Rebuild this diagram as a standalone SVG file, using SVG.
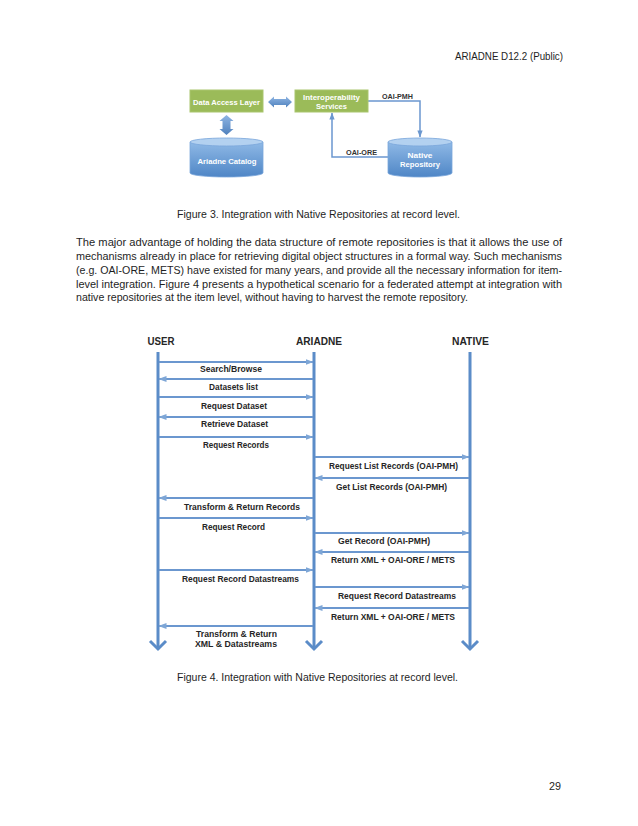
<svg xmlns="http://www.w3.org/2000/svg" width="638" height="826" viewBox="0 0 638 826">
<style>
.t{font-family:"Liberation Sans",Arial,sans-serif;fill:#1e1e1e}
.body{font-size:10.5px}
.lbl{font-size:8.5px;font-weight:bold;fill:#262626}
.hdr{font-size:10.5px;font-weight:bold;fill:#262626}
.wt{font-family:"Liberation Sans",Arial,sans-serif;font-size:7.5px;font-weight:bold;fill:#ffffff}
.dk{font-family:"Liberation Sans",Arial,sans-serif;font-size:7.5px;font-weight:bold;fill:#333}
.life{stroke:#5b8cc8;stroke-width:3;fill:none}
.chev{stroke:#5b8cc8;stroke-width:3;fill:none;stroke-linejoin:miter}
.msg{stroke:#6b97cf;stroke-width:2;fill:none}
.msgR{marker-end:url(#ah)}
.conn{stroke:#6b97cf;stroke-width:1.5;fill:none}
.box{fill:#9bbb59;stroke:#a9c56e;stroke-width:1}
</style>
<defs>
<marker id="ah" viewBox="0 0 8 6" refX="7.5" refY="3" markerWidth="8" markerHeight="6" markerUnits="userSpaceOnUse" orient="auto"><path d="M0,0 L8,3 L0,6 Z" fill="#7ea6d6"/></marker>
<marker id="ah2" viewBox="0 0 8 6" refX="7.5" refY="3" markerWidth="7" markerHeight="6" markerUnits="userSpaceOnUse" orient="auto"><path d="M0,0 L8,3 L0,6 Z" fill="#6b97cf"/></marker>
<linearGradient id="cyl" x1="0" y1="0" x2="0" y2="1"><stop offset="0" stop-color="#8fb9e6"/><stop offset="1" stop-color="#4f86c6"/></linearGradient>
<linearGradient id="blk" x1="0" y1="0" x2="0" y2="1"><stop offset="0" stop-color="#8fb5e3"/><stop offset="1" stop-color="#4f81bd"/></linearGradient>
</defs>

<text class="t body" x="563" y="60" text-anchor="end" textLength="108" lengthAdjust="spacingAndGlyphs">ARIADNE D12.2 (Public)</text>

<!-- Figure 3 -->
<g id="fig3-connectors">
<polygon points="268,102 274,96.5 274,99 286,99 286,96.5 292,102 286,107.5 286,105 274,105 274,107.5" fill="url(#blk)"/>
<polygon points="226.5,115 233.5,121 230.5,121 230.5,129 233.5,129 226.5,135 219.5,129 222.5,129 222.5,121 219.5,121" fill="url(#blk)"/>
<path class="conn" d="M368,101 L420,101 L420,137" marker-end="url(#ah2)"/>
<path class="conn" d="M388,157 L332,157 L332,113" marker-end="url(#ah2)"/>
<text class="dk" x="397.5" y="99" text-anchor="middle" textLength="31" lengthAdjust="spacingAndGlyphs">OAI-PMH</text>
<text class="dk" x="361.5" y="155" text-anchor="middle" textLength="31" lengthAdjust="spacingAndGlyphs">OAI-ORE</text>
</g>
<g id="data-access-layer">
<rect class="box" x="190" y="90" width="73" height="22"/>
<text class="wt" x="226.5" y="104.5" text-anchor="middle" textLength="67" lengthAdjust="spacingAndGlyphs">Data Access Layer</text>
</g>
<g id="interoperability-services">
<rect class="box" x="295" y="90" width="73" height="22"/>
<text class="wt" x="331.5" y="99.5" text-anchor="middle" textLength="57" lengthAdjust="spacingAndGlyphs">Interoperability</text>
<text class="wt" x="331.5" y="108.5" text-anchor="middle" textLength="31" lengthAdjust="spacingAndGlyphs">Services</text>
</g>
<g id="ariadne-catalog">
<path d="M190,142 L190,173 A36.5,4 0 0 0 263,173 L263,142 Z" fill="url(#cyl)" stroke="#7aa6da" stroke-width="0.8"/>
<ellipse cx="226.5" cy="142" rx="36.5" ry="4" fill="#b3d1f0" stroke="#7aa6da" stroke-width="0.8"/>
<text class="wt" x="227" y="163.5" text-anchor="middle" textLength="59" lengthAdjust="spacingAndGlyphs">Ariadne Catalog</text>
</g>
<g id="native-repository">
<path d="M388,142 L388,173 A32,4 0 0 0 452,173 L452,142 Z" fill="url(#cyl)" stroke="#7aa6da" stroke-width="0.8"/>
<ellipse cx="420" cy="142" rx="32" ry="4" fill="#b3d1f0" stroke="#7aa6da" stroke-width="0.8"/>
<text class="wt" x="420" y="158" text-anchor="middle" textLength="25" lengthAdjust="spacingAndGlyphs">Native</text>
<text class="wt" x="420" y="167" text-anchor="middle" textLength="40" lengthAdjust="spacingAndGlyphs">Repository</text>
</g>

<text class="t body" x="318.5" y="218" text-anchor="middle" textLength="283" lengthAdjust="spacingAndGlyphs">Figure 3. Integration with Native Repositories at record level.</text>

<text class="t body" x="76" y="246" textLength="486" lengthAdjust="spacingAndGlyphs">The major advantage of holding the data structure of remote repositories is that it allows the use of</text>
<text class="t body" x="76" y="260" textLength="486" lengthAdjust="spacingAndGlyphs">mechanisms already in place for retrieving digital object structures in a formal way. Such mechanisms</text>
<text class="t body" x="76" y="274" textLength="486" lengthAdjust="spacingAndGlyphs">(e.g. OAI-ORE, METS) have existed for many years, and provide all the necessary information for item-</text>
<text class="t body" x="76" y="287.5" textLength="486" lengthAdjust="spacingAndGlyphs">level integration. Figure 4 presents a hypothetical scenario for a federated attempt at integration with</text>
<text class="t body" x="76" y="301" textLength="392" lengthAdjust="spacingAndGlyphs">native repositories at the item level, without having to harvest the remote repository.</text>

<!-- Figure 4 -->
<g id="user">
<text class="t hdr" x="161" y="345" text-anchor="middle" textLength="27" lengthAdjust="spacingAndGlyphs">USER</text>
<line class="life" x1="158" y1="352" x2="158" y2="649"/>
<polyline class="chev" points="150,641 158,649 166,641"/>
</g>
<g id="ariadne">
<text class="t hdr" x="319" y="345" text-anchor="middle" textLength="46" lengthAdjust="spacingAndGlyphs">ARIADNE</text>
<line class="life" x1="314" y1="352" x2="314" y2="649"/>
<polyline class="chev" points="306,641 314,649 322,641"/>
</g>
<g id="native">
<text class="t hdr" x="470.5" y="345" text-anchor="middle" textLength="37" lengthAdjust="spacingAndGlyphs">NATIVE</text>
<line class="life" x1="470" y1="352" x2="470" y2="649"/>
<polyline class="chev" points="462,641 470,649 478,641"/>
</g>

<g id="messages">
<line class="msg msgR" x1="159" y1="362" x2="313" y2="362"/>
<line class="msg msgR" x1="313" y1="379" x2="159" y2="379"/>
<line class="msg msgR" x1="159" y1="397" x2="313" y2="397"/>
<line class="msg msgR" x1="313" y1="417" x2="159" y2="417"/>
<line class="msg msgR" x1="159" y1="437" x2="313" y2="437"/>
<line class="msg msgR" x1="315" y1="457" x2="469" y2="457"/>
<line class="msg msgR" x1="469" y1="478" x2="315" y2="478"/>
<line class="msg msgR" x1="313" y1="498" x2="159" y2="498"/>
<line class="msg msgR" x1="159" y1="518" x2="313" y2="518"/>
<line class="msg msgR" x1="315" y1="533" x2="469" y2="533"/>
<line class="msg msgR" x1="469" y1="552" x2="315" y2="552"/>
<line class="msg msgR" x1="159" y1="570" x2="313" y2="570"/>
<line class="msg msgR" x1="315" y1="587" x2="469" y2="587"/>
<line class="msg msgR" x1="469" y1="608" x2="315" y2="608"/>
<line class="msg msgR" x1="313" y1="626" x2="159" y2="626"/>

<text class="t lbl" x="231" y="372" text-anchor="middle" textLength="62" lengthAdjust="spacingAndGlyphs">Search/Browse</text>
<text class="t lbl" x="233.5" y="390" text-anchor="middle" textLength="49" lengthAdjust="spacingAndGlyphs">Datasets list</text>
<text class="t lbl" x="234" y="408.5" text-anchor="middle" textLength="66" lengthAdjust="spacingAndGlyphs">Request Dataset</text>
<text class="t lbl" x="234.5" y="427" text-anchor="middle" textLength="67" lengthAdjust="spacingAndGlyphs">Retrieve Dataset</text>
<text class="t lbl" x="236" y="448" text-anchor="middle" textLength="66" lengthAdjust="spacingAndGlyphs">Request Records</text>
<text class="t lbl" x="393.5" y="468.5" text-anchor="middle" textLength="129" lengthAdjust="spacingAndGlyphs">Request List Records (OAI-PMH)</text>
<text class="t lbl" x="391.5" y="490" text-anchor="middle" textLength="111" lengthAdjust="spacingAndGlyphs">Get List Records (OAI-PMH)</text>
<text class="t lbl" x="242" y="509.5" text-anchor="middle" textLength="116" lengthAdjust="spacingAndGlyphs">Transform &amp; Return Records</text>
<text class="t lbl" x="233.5" y="530" text-anchor="middle" textLength="63" lengthAdjust="spacingAndGlyphs">Request Record</text>
<text class="t lbl" x="384" y="544" text-anchor="middle" textLength="92" lengthAdjust="spacingAndGlyphs">Get Record (OAI-PMH)</text>
<text class="t lbl" x="393" y="562.5" text-anchor="middle" textLength="124" lengthAdjust="spacingAndGlyphs">Return XML + OAI-ORE / METS</text>
<text class="t lbl" x="240.5" y="582" text-anchor="middle" textLength="117" lengthAdjust="spacingAndGlyphs">Request Record Datastreams</text>
<text class="t lbl" x="397" y="599" text-anchor="middle" textLength="118" lengthAdjust="spacingAndGlyphs">Request Record Datastreams</text>
<text class="t lbl" x="393" y="619.5" text-anchor="middle" textLength="124" lengthAdjust="spacingAndGlyphs">Return XML + OAI-ORE / METS</text>
<text class="t lbl" x="236.5" y="637" text-anchor="middle" textLength="81" lengthAdjust="spacingAndGlyphs">Transform &amp; Return</text>
<text class="t lbl" x="236" y="647" text-anchor="middle" textLength="82" lengthAdjust="spacingAndGlyphs">XML &amp; Datastreams</text>
</g>

<text class="t body" x="317.5" y="681" text-anchor="middle" textLength="281" lengthAdjust="spacingAndGlyphs">Figure 4. Integration with Native Repositories at record level.</text>

<text class="t body" x="561" y="790" text-anchor="end" textLength="12" lengthAdjust="spacingAndGlyphs">29</text>
</svg>
